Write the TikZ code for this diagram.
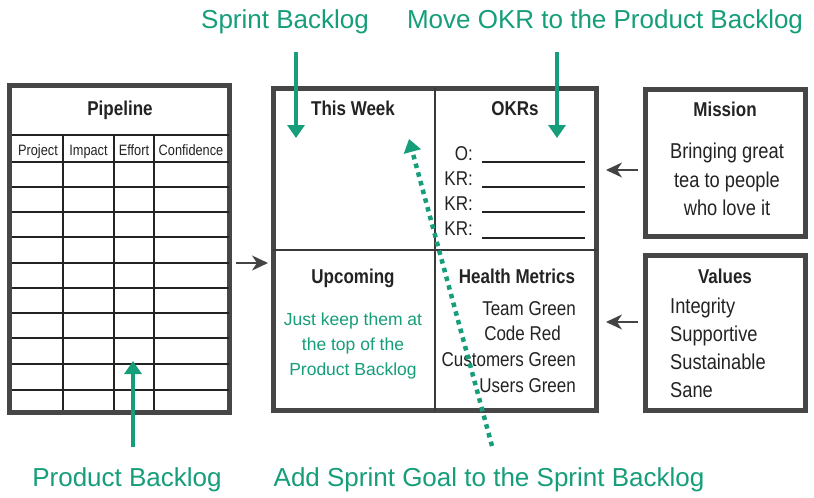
\documentclass[tikz,border=0pt]{standalone}
\usepackage{fontspec}
\setmainfont{Liberation Sans}
\newfontfamily\boxf[FakeStretch=0.85]{Liberation Sans}
\usetikzlibrary{arrows.meta}
\definecolor{teal}{RGB}{22,158,122}
\definecolor{frm}{RGB}{70,70,70}
\definecolor{ink}{RGB}{35,35,35}
\tikzset{
  frame/.style={draw=frm, line width=5pt, anchor=north west, inner sep=0pt, outer sep=0pt},
  grid/.style={draw=ink, line width=1.3pt},
  divider/.style={draw=ink!90, line width=2.6pt},
  ttl/.style={font=\boxf\bfseries\fontsize{20}{20}\selectfont, text=ink, anchor=base, inner sep=0pt},
  hdr/.style={font=\boxf\fontsize{15}{15}\selectfont, text=ink, anchor=base, inner sep=0pt},
  body/.style={font=\boxf\fontsize{20}{20}\selectfont, text=ink, anchor=base, inner sep=0pt},
  bodyl/.style={font=\boxf\fontsize{21.5}{21.5}\selectfont, text=ink, anchor=base, inner sep=0pt},
  glabel/.style={font=\fontsize{26}{26}\selectfont, text=teal, anchor=base, inner sep=0pt},
  gsmall/.style={font=\fontsize{17.5}{17.5}\selectfont, text=teal, anchor=base, inner sep=0pt},
  garrow/.style={draw=teal, line width=3.5pt, -{Triangle[width=17pt,length=13pt]}},
  gdots/.style={draw=teal, line width=4.5pt, dash pattern=on 4.5pt off 4.5pt, -{Triangle[width=17pt,length=13pt]}},
  karrow/.style={draw=ink!85, line width=1.8pt, -{Stealth[length=16pt,width=15pt,inset=5pt]}},
}
\begin{document}
\begin{tikzpicture}[x=1pt,y=-1pt]
\useasboundingbox (0,0) rectangle (814,498);
\fill[white] (0,0) rectangle (814,498);

% ---------- Pipeline ----------
\node[frame, minimum width=220pt, minimum height=327pt] (pipe) at (9.5,85.5) {};
\draw[grid] (12,135) -- (229,135);
\foreach \yy in {162,187,212,237,263,288,313,338,364,390}{
  \draw[grid] (12,\yy) -- (229,\yy);
}
\foreach \xx in {63,114,154}{
  \draw[grid] (\xx,135) -- (\xx,410);
}
\node[ttl] (pipet) at (120,115) {Pipeline};
\node[hdr] (hproj) at (38,155) {Project};
\node[hdr] (himp) at (88.5,155) {Impact};
\node[hdr] (heff) at (134,155) {Effort};
\node[hdr] (hconf) at (191,155) {Confidence};

% ---------- Middle board ----------
\node[frame, minimum width=323pt, minimum height=322pt] (board) at (273.5,88.5) {};
\draw[divider] (435,88) -- (435,411);
\draw[divider] (273,250) -- (597,250);
\node[ttl] (week) at (353,115) {This Week};
\node[ttl] (okrs) at (515,115) {OKRs};
\node[ttl] (upc) at (353,283) {Upcoming};
\node[ttl] (hm) at (517,283) {Health Metrics};

\node[body, anchor=base east] (o1) at (473,160) {O:};
\node[body, anchor=base east] (k1) at (473,185) {KR:};
\node[body, anchor=base east] (k2) at (473,210) {KR:};
\node[body, anchor=base east] (k3) at (473,235) {KR:};
\foreach \yy in {162,187,212,238}{
  \draw[draw=ink, line width=1.2pt] (482,\yy) -- (585,\yy);
}

\node[body, anchor=base east] (tg) at (576,315) {Team Green};
\node[body, anchor=base east] (cr) at (561,340) {Code Red};
\node[body, anchor=base east] (cg) at (576,366) {Customers Green};
\node[body, anchor=base east] (ug) at (576,392) {Users Green};

\node[gsmall] (up1) at (353,325) {Just keep them at};
\node[gsmall] (up2) at (353,350) {the top of the};
\node[gsmall] (up3) at (353,375) {Product Backlog};

% ---------- Mission / Values ----------
\node[frame, minimum width=160pt, minimum height=147pt] (mission) at (645.5,89.5) {};
\node[ttl] (mist) at (725,116) {Mission};
\node[bodyl] (m1) at (727,158) {Bringing great};
\node[bodyl] (m2) at (727,187) {tea to people};
\node[bodyl] (m3) at (727,215) {who love it};

\node[frame, minimum width=160pt, minimum height=155pt] (values) at (645.5,255.5) {};
\node[ttl] (valt) at (725,283) {Values};
\node[bodyl, anchor=base west] (v1) at (670,313) {Integrity};
\node[bodyl, anchor=base west] (v2) at (670,341) {Supportive};
\node[bodyl, anchor=base west] (v3) at (670,369) {Sustainable};
\node[bodyl, anchor=base west] (v4) at (670,397) {Sane};

% ---------- black arrows ----------
\coordinate (pa) at (236,263);
\coordinate (pb) at (268,263);
\draw[karrow] (pa) -- (pb);
\coordinate (ma) at (638,170);
\coordinate (mb) at (606,170);
\draw[karrow] (ma) -- (mb);
\coordinate (va) at (638,322);
\coordinate (vb) at (606,322);
\draw[karrow] (va) -- (vb);

% ---------- green labels and arrows ----------
\node[glabel] (sbl) at (285,28) {Sprint Backlog};
\node[glabel] (mokr) at (605,28) {Move OKR to the Product Backlog};
\node[glabel] (pbl) at (127,486) {Product Backlog};
\node[glabel] (asg) at (489,486) {Add Sprint Goal to the Sprint Backlog};

\coordinate (sbs) at (296,52);
\coordinate (sbe) at (296,138);
\draw[garrow] (sbs) -- (sbe);
\coordinate (mos) at (557,52);
\coordinate (moe) at (557,138);
\draw[garrow] (mos) -- (moe);
\coordinate (pbs) at (133,447);
\coordinate (pbe) at (133,361);
\draw[garrow] (pbs) -- (pbe);
\coordinate (ass) at (492,446);
\coordinate (ase) at (409,139);
\draw[gdots] (ass) -- (ase);
\end{tikzpicture}
\end{document}
